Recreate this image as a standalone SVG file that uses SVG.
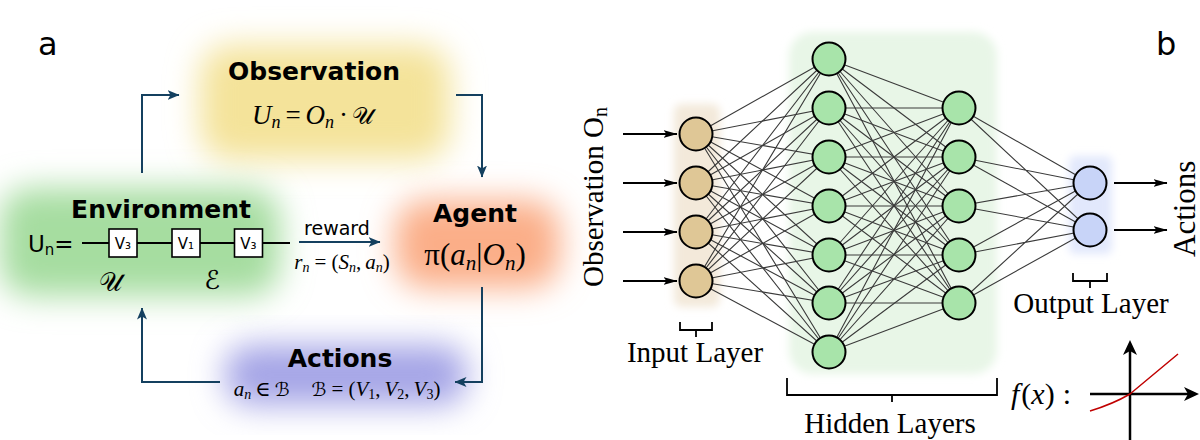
<svg xmlns="http://www.w3.org/2000/svg" width="1200" height="440" viewBox="0 0 1200 440">
<defs>
<style>
.ttl{font-family:"DejaVu Sans",sans-serif;font-weight:bold;font-size:25px;fill:#000;text-anchor:middle}
.lbl{font-family:"DejaVu Sans",sans-serif;fill:#000}
.m{font-family:"Liberation Serif","DejaVu Serif",serif;fill:#000}
.i{font-style:italic}
.ser{font-family:"Liberation Serif",serif;fill:#000;font-size:29px}
.arr{fill:none;stroke:#14405f;stroke-width:2;marker-end:url(#ah)}
.edge{fill:none;stroke:#3a3a3a;stroke-width:1.1}
.nd{stroke:#000;stroke-width:2}
.inp{fill:#dfc796}
.hid{fill:#a8e4aa}
.out{fill:#c8d4f8}
.br{fill:none;stroke:#000;stroke-width:1.8}
.barr{fill:none;stroke:#000;stroke-width:1.8;marker-end:url(#bh)}
.scr{font-family:"DejaVu Serif","DejaVu Sans",serif;font-weight:normal;font-style:normal}
</style>
<filter id="blur" x="-50%" y="-50%" width="200%" height="200%"><feGaussianBlur stdDeviation="16"/></filter>
<filter id="soft" x="-20%" y="-20%" width="140%" height="140%"><feGaussianBlur stdDeviation="4"/></filter>
<marker id="ah" viewBox="0 0 12 10" refX="11.5" refY="5" markerWidth="12" markerHeight="10" markerUnits="userSpaceOnUse" orient="auto"><path d="M0 0L12 5L0 10L3 5Z" fill="#14405f"/></marker>
<marker id="bh" viewBox="0 0 14 8" refX="13.5" refY="4" markerWidth="14" markerHeight="8" markerUnits="userSpaceOnUse" orient="auto"><path d="M0 0L14 4L0 8L3 4Z" fill="#000"/></marker>
</defs>
<rect width="1200" height="440" fill="#fff"/>

<g id="blobs">
<rect x="200" y="45" width="250" height="115" rx="30" fill="#f4e39a" filter="url(#blur)"/>
<rect x="0" y="188" width="280" height="108" rx="30" fill="#a6dda0" filter="url(#blur)"/>
<rect x="395" y="200" width="165" height="88" rx="30" fill="#fbae88" filter="url(#blur)"/>
<rect x="225" y="345" width="242" height="60" rx="25" fill="#a4a4e6" filter="url(#blur)"/>
</g>

<text x="38" y="55" class="lbl" font-size="32">a</text>
<text x="1156" y="55" class="lbl" font-size="32">b</text>

<g id="observation">
<text x="314" y="80" class="ttl">Observation</text>
<text x="313" y="124" class="m" font-size="27" text-anchor="middle"><tspan class="i">U</tspan><tspan class="i" font-size="18" dy="4">n</tspan><tspan dy="-4" dx="5">=</tspan><tspan class="i" dx="5">O</tspan><tspan class="i" font-size="18" dy="4">n</tspan><tspan dy="-4" dx="5">·</tspan><tspan class="scr" dx="4" font-size="24">𝒰</tspan></text>
</g>

<g id="environment">
<text x="161" y="218" class="ttl">Environment</text>
<text x="28" y="252" class="lbl" font-size="23">U<tspan font-size="15" dy="3">n</tspan><tspan dy="-3">=</tspan></text>
<path d="M82 243H290" stroke="#000" stroke-width="1.8"/>
<rect x="109" y="229" width="28" height="28" fill="#fff" stroke="#000" stroke-width="1.6"/>
<rect x="172" y="229" width="28" height="28" fill="#fff" stroke="#000" stroke-width="1.6"/>
<rect x="234.5" y="229" width="28" height="28" fill="#fff" stroke="#000" stroke-width="1.6"/>
<text x="123" y="249" class="lbl" font-size="15" text-anchor="middle">V₃</text>
<text x="186" y="249" class="lbl" font-size="15" text-anchor="middle">V₁</text>
<text x="248.5" y="249" class="lbl" font-size="15" text-anchor="middle">V₃</text>
<text x="110" y="291" class="m scr" font-size="26" text-anchor="middle">𝒰</text>
<text x="212" y="289" class="m scr" font-size="26" text-anchor="middle">ℰ</text>
</g>

<g id="agent">
<text x="475" y="222" class="ttl">Agent</text>
<text x="475" y="265" class="m" font-size="31" text-anchor="middle">π(<tspan class="i">a</tspan><tspan class="i" font-size="21" dy="5">n</tspan><tspan dy="-5">|</tspan><tspan class="i">O</tspan><tspan class="i" font-size="21" dy="5">n</tspan><tspan dy="-5">)</tspan></text>
</g>

<g id="actions">
<text x="340" y="367" class="ttl">Actions</text>
<text x="337" y="396" class="m" font-size="21" text-anchor="middle"><tspan class="i">a</tspan><tspan class="i" font-size="14" dy="3">n</tspan><tspan dy="-3" dx="4">∈</tspan><tspan class="scr" dx="4" font-size="19">ℬ</tspan><tspan class="scr" dx="22" font-size="19">ℬ</tspan><tspan dx="5">=</tspan><tspan dx="5">(</tspan><tspan class="i">V</tspan><tspan font-size="14" dy="3">1</tspan><tspan dy="-3">,</tspan><tspan class="i" dx="4">V</tspan><tspan font-size="14" dy="3">2</tspan><tspan dy="-3">,</tspan><tspan class="i" dx="4">V</tspan><tspan font-size="14" dy="3">3</tspan><tspan dy="-3">)</tspan></text>
</g>

<g id="connectors-a">
<path class="arr" d="M142 173V95H179"/>
<path class="arr" d="M456 95H482V177"/>
<path class="arr" d="M299 242H380"/>
<path class="arr" d="M482 287V382H455"/>
<path class="arr" d="M220 382H142V308"/>
<text x="337" y="235" class="lbl" font-size="19" text-anchor="middle">reward</text>
<text x="342" y="269" class="m" font-size="21" text-anchor="middle"><tspan class="i">r</tspan><tspan class="i" font-size="14" dy="3">n</tspan><tspan dy="-3" dx="5">=</tspan><tspan dx="5">(</tspan><tspan class="i">S</tspan><tspan class="i" font-size="14" dy="3">n</tspan><tspan dy="-3">,</tspan><tspan class="i" dx="4">a</tspan><tspan class="i" font-size="14" dy="3">n</tspan><tspan dy="-3">)</tspan></text>
</g>

<g id="layer-bg">
<rect x="674" y="104" width="46" height="203" rx="8" fill="#f3e9da" filter="url(#soft)"/>
<rect x="789" y="32" width="208" height="342" rx="24" fill="#e8f6e7" filter="url(#soft)"/>
<rect x="1069" y="156" width="43" height="98" rx="6" fill="#e2e8fc" filter="url(#soft)"/>
</g>

<g id="connectors-b">
<path class="edge" d="M696 134L829 59M696 134L829 108M696 134L829 157M696 134L829 206M696 134L829 255M696 134L829 303M696 134L829 352"/>
<path class="edge" d="M696 183L829 59M696 183L829 108M696 183L829 157M696 183L829 206M696 183L829 255M696 183L829 303M696 183L829 352"/>
<path class="edge" d="M696 232L829 59M696 232L829 108M696 232L829 157M696 232L829 206M696 232L829 255M696 232L829 303M696 232L829 352"/>
<path class="edge" d="M696 281L829 59M696 281L829 108M696 281L829 157M696 281L829 206M696 281L829 255M696 281L829 303M696 281L829 352"/>
<path class="edge" d="M829 59L959 108M829 59L959 157M829 59L959 206M829 59L959 255M829 59L959 303"/>
<path class="edge" d="M829 108L959 108M829 108L959 157M829 108L959 206M829 108L959 255M829 108L959 303"/>
<path class="edge" d="M829 157L959 108M829 157L959 157M829 157L959 206M829 157L959 255M829 157L959 303"/>
<path class="edge" d="M829 206L959 108M829 206L959 157M829 206L959 206M829 206L959 255M829 206L959 303"/>
<path class="edge" d="M829 255L959 108M829 255L959 157M829 255L959 206M829 255L959 255M829 255L959 303"/>
<path class="edge" d="M829 303L959 108M829 303L959 157M829 303L959 206M829 303L959 255M829 303L959 303"/>
<path class="edge" d="M829 352L959 108M829 352L959 157M829 352L959 206M829 352L959 255M829 352L959 303"/>
<path class="edge" d="M959 108L1090 183M959 108L1090 230M959 157L1090 183M959 157L1090 230M959 206L1090 183M959 206L1090 230M959 255L1090 183M959 255L1090 230M959 303L1090 183M959 303L1090 230"/>
<path class="barr" d="M623 134H677"/>
<path class="barr" d="M623 183H677"/>
<path class="barr" d="M623 232H677"/>
<path class="barr" d="M623 281H677"/>
<path class="barr" d="M1114 183H1167"/>
<path class="barr" d="M1114 230H1167"/>
</g>

<g id="input-layer">
<circle class="nd inp" cx="696" cy="134" r="16.5"/>
<circle class="nd inp" cx="696" cy="183" r="16.5"/>
<circle class="nd inp" cx="696" cy="232" r="16.5"/>
<circle class="nd inp" cx="696" cy="281" r="16.5"/>
<path class="br" d="M680 322V330H712V322M696 330V337"/>
<text x="695" y="362" class="ser" text-anchor="middle">Input Layer</text>
</g>

<g id="hidden-layers">
<circle class="nd hid" cx="829" cy="59" r="16.5"/>
<circle class="nd hid" cx="829" cy="108" r="16.5"/>
<circle class="nd hid" cx="829" cy="157" r="16.5"/>
<circle class="nd hid" cx="829" cy="206" r="16.5"/>
<circle class="nd hid" cx="829" cy="255" r="16.5"/>
<circle class="nd hid" cx="829" cy="303" r="16.5"/>
<circle class="nd hid" cx="829" cy="352" r="16.5"/>
<circle class="nd hid" cx="959" cy="108" r="16.5"/>
<circle class="nd hid" cx="959" cy="157" r="16.5"/>
<circle class="nd hid" cx="959" cy="206" r="16.5"/>
<circle class="nd hid" cx="959" cy="255" r="16.5"/>
<circle class="nd hid" cx="959" cy="303" r="16.5"/>
<path class="br" d="M787 378V395H997V378M892 395V402"/>
<text x="890" y="433" class="ser" text-anchor="middle">Hidden Layers</text>
</g>

<g id="output-layer">
<circle class="nd out" cx="1090" cy="183" r="16.5"/>
<circle class="nd out" cx="1090" cy="230" r="16.5"/>
<path class="br" d="M1073 273V281H1107V273M1090 281V288"/>
<text x="1091" y="313" class="ser" text-anchor="middle">Output Layer</text>
</g>

<text class="ser" transform="translate(603,287) rotate(-90)">Observation O<tspan font-size="20" dy="4">n</tspan></text>
<text class="ser" transform="translate(1195,257) rotate(-90)" style="font-size:31px">Actions</text>

<g id="activation">
<text x="1011" y="404" class="m" font-size="30"><tspan class="i">f</tspan><tspan dx="2">(</tspan><tspan class="i">x</tspan><tspan>)</tspan><tspan dx="8">:</tspan></text>
<path d="M1130 440V346" stroke="#000" stroke-width="2.5" fill="none"/>
<path d="M1123 355L1130 340L1137 355L1130 351Z" fill="#000"/>
<path d="M1090 394H1192" stroke="#000" stroke-width="2.5" fill="none"/>
<path d="M1184 387L1199 394L1184 401L1188 394Z" fill="#000"/>
<path d="M1090 411Q1113 404 1130 394L1178 354" stroke="#c00000" stroke-width="1.5" fill="none"/>
</g>
</svg>
